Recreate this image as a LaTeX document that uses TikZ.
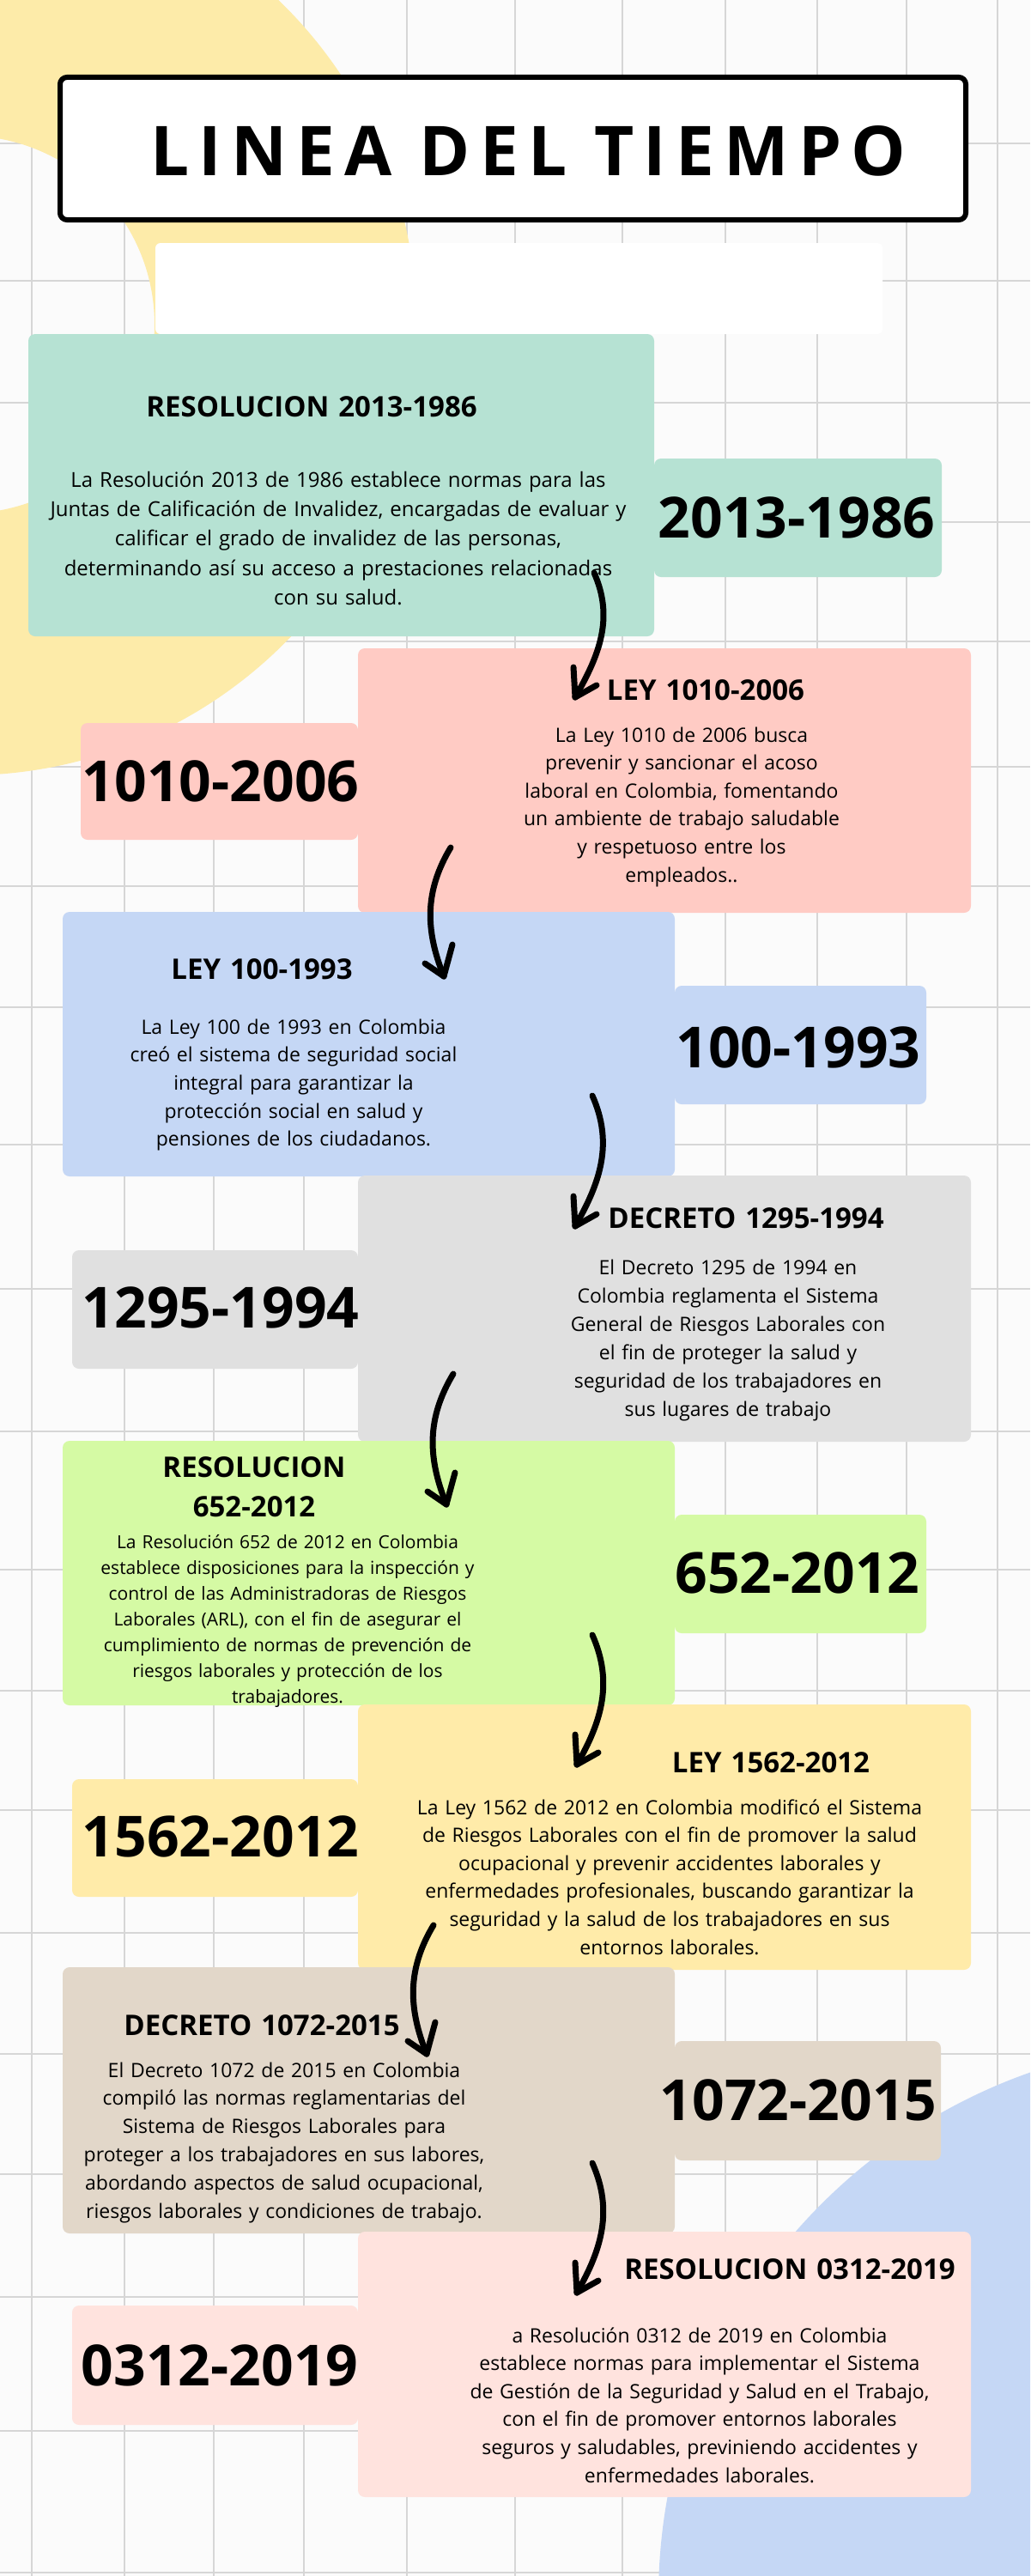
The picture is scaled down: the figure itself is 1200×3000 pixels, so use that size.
\documentclass[tikz,border=0pt]{standalone}
\usepackage{fontspec}
\setmainfont{Open Sans}
\newfontfamily\titlefont{Open Sans}[LetterSpace=14]
\definecolor{bgc}{HTML}{FBFBFB}
\definecolor{gridc}{HTML}{D6D6D6}
\definecolor{donutc}{HTML}{FDEBA9}
\definecolor{bcirc}{HTML}{C5D7F5}
\definecolor{mint}{HTML}{B6E2D3}
\definecolor{salmon}{HTML}{FFCBC4}
\definecolor{skyb}{HTML}{C5D7F5}
\definecolor{greyb}{HTML}{E0E0E0}
\definecolor{lime}{HTML}{D5FAA4}
\definecolor{butter}{HTML}{FFEBA9}
\definecolor{beige}{HTML}{E2D7C9}
\definecolor{blush}{HTML}{FFE3DE}
\begin{document}
\begin{tikzpicture}[x=1pt,y=-1pt,
  panel/.style={rounded corners=8pt, inner sep=0pt, draw=none},
  head/.style={font=\fontsize{33}{46}\selectfont\bfseries, anchor=base, inner sep=0pt, align=center, text width=700pt},
  datelbl/.style={font=\fontsize{66}{80}\selectfont\bfseries, anchor=base, inner sep=0pt},
  body/.style={anchor=base, inner sep=0pt, align=center, text width=760pt},
  arr/.style={line width=7pt, line cap=round, line join=round, black},
  gridline/.style={draw=gridc, line width=1.3pt}]
\useasboundingbox (0,0) rectangle (1200,3000);
\clip (0,0) rectangle (1200,3000);
\fill[bgc] (0,0) rectangle (1200,3000);
% grid
\foreach \gx in {37,145,249,354,474,600,725,845,952,1056,1162}
  \draw[gridline] (\gx,0) -- (\gx,3000);
\foreach \gy in {167,327,469,608,747,893,1032,1173,1333,1501,1667,1828,1969,2108,2251,2392,2532,2675,2831,2996}
  \draw[gridline] (0,\gy) -- (1200,\gy);
% decorative shapes
\fill[donutc, even odd rule] (-40,378) circle[radius=525pt] (-40,378) circle[radius=220pt];
\fill[bcirc] (1415,3025) circle[radius=648pt];
% title
\node[panel, draw=black, line width=6pt, fill=white, rounded corners=8pt, minimum width=1055pt, minimum height=166pt] (title) at (597.5,173) {};
\node[font=\titlefont\fontsize{80}{96}\selectfont\bfseries, anchor=base west, inner sep=0pt] (titletext) at (175,204) {LINEA DEL TIEMPO};
\node[panel, fill=white, rounded corners=6pt, minimum width=847pt, minimum height=106pt] (blank) at (604.5,336) {};
% panels
\node[panel, fill=mint, minimum width=729pt, minimum height=352pt] (b1) at (397.5,565) {};
\node[panel, fill=mint, minimum width=335pt, minimum height=138pt] (b1t) at (929.5,603) {};
\node[panel, fill=salmon, minimum width=714pt, minimum height=308pt] (b2) at (774,909) {};
\node[panel, fill=salmon, minimum width=323pt, minimum height=136pt] (b2t) at (255.5,910) {};
\node[panel, fill=skyb, minimum width=713pt, minimum height=308pt] (b3) at (429.5,1216) {};
\node[panel, fill=skyb, minimum width=293pt, minimum height=138pt] (b3t) at (932.5,1217) {};
\node[panel, fill=greyb, minimum width=714pt, minimum height=310pt] (b4) at (774,1524) {};
\node[panel, fill=greyb, minimum width=333pt, minimum height=138pt] (b4t) at (250.5,1525) {};
\node[panel, fill=lime, minimum width=713pt, minimum height=308pt] (b5) at (429.5,1832) {};
\node[panel, fill=lime, minimum width=293pt, minimum height=138pt] (b5t) at (932.5,1833) {};
\node[panel, fill=butter, minimum width=714pt, minimum height=309pt] (b6) at (774,2139.5) {};
\node[panel, fill=butter, minimum width=333pt, minimum height=137pt] (b6t) at (250.5,2140.5) {};
\node[panel, fill=beige, minimum width=713pt, minimum height=310pt] (b7) at (429.5,2446) {};
\node[panel, fill=beige, minimum width=310pt, minimum height=139pt] (b7t) at (941,2446.5) {};
\node[panel, fill=blush, minimum width=714pt, minimum height=309pt] (b8) at (774,2753.5) {};
\node[panel, fill=blush, minimum width=333pt, minimum height=139pt] (b8t) at (250.5,2754.5) {};
% texts 1
\node[head] (h1) at (363,485) {RESOLUCION 2013-1986};
\node[body, font=\fontsize{24}{34.4}\selectfont] (x1) at (394,567) {La Resolución 2013 de 1986 establece normas para las\\Juntas de Calificación de Invalidez, encargadas de evaluar y\\calificar el grado de invalidez de las personas,\\determinando así su acceso a prestaciones relacionadas\\con su salud.};
\node[datelbl] (d1) at (928,626) {2013-1986};
% texts 2
\node[head] (h2) at (822,815) {LEY 1010-2006};
\node[body, font=\fontsize{23}{32.6}\selectfont] (x2) at (794,864) {La Ley 1010 de 2006 busca\\prevenir y sancionar el acoso\\laboral en Colombia, fomentando\\un ambiente de trabajo saludable\\y respetuoso entre los\\empleados..};
\node[datelbl] (d2) at (257,933) {1010-2006};
% texts 3
\node[head] (h3) at (305,1140) {LEY 100-1993};
\node[body, font=\fontsize{23}{32.7}\selectfont] (x3) at (342,1204) {La Ley 100 de 1993 en Colombia\\creó el sistema de seguridad social\\integral para garantizar la\\protección social en salud y\\pensiones de los ciudadanos.};
\node[datelbl] (d3) at (930,1243) {100-1993};
% texts 4
\node[head] (h4) at (869,1430) {DECRETO 1295-1994};
\node[body, font=\fontsize{23}{33}\selectfont] (x4) at (848,1484) {El Decreto 1295 de 1994 en\\Colombia reglamenta el Sistema\\General de Riesgos Laborales con\\el fin de proteger la salud y\\seguridad de los trabajadores en\\sus lugares de trabajo};
\node[datelbl] (d4) at (257,1546) {1295-1994};
% texts 5
\node[head] (h5) at (296,1720) {RESOLUCION\\652-2012};
\node[body, font=\fontsize{21}{30}\selectfont] (x5) at (335,1803) {La Resolución 652 de 2012 en Colombia\\establece disposiciones para la inspección y\\control de las Administradoras de Riesgos\\Laborales (ARL), con el fin de asegurar el\\cumplimiento de normas de prevención de\\riesgos laborales y protección de los\\trabajadores.};
\node[datelbl] (d5) at (929,1855) {652-2012};
% texts 6
\node[head] (h6) at (898,2064) {LEY 1562-2012};
\node[body, font=\fontsize{23}{32.6}\selectfont] (x6) at (780,2113) {La Ley 1562 de 2012 en Colombia modificó el Sistema\\de Riesgos Laborales con el fin de promover la salud\\ocupacional y prevenir accidentes laborales y\\enfermedades profesionales, buscando garantizar la\\seguridad y la salud de los trabajadores en sus\\entornos laborales.};
\node[datelbl] (d6) at (257,2162) {1562-2012};
% texts 7
\node[head] (h7) at (305,2370) {DECRETO 1072-2015};
\node[body, font=\fontsize{23}{32.8}\selectfont] (x7) at (331,2419) {El Decreto 1072 de 2015 en Colombia\\compiló las normas reglamentarias del\\Sistema de Riesgos Laborales para\\proteger a los trabajadores en sus labores,\\abordando aspectos de salud ocupacional,\\riesgos laborales y condiciones de trabajo.};
\node[datelbl] (d7) at (930,2469) {1072-2015};
% texts 8
\node[head] (h8) at (920,2654) {RESOLUCION 0312-2019};
\node[body, font=\fontsize{23}{32.6}\selectfont] (x8) at (815,2728) {a Resolución 0312 de 2019 en Colombia\\establece normas para implementar el Sistema\\de Gestión de la Seguridad y Salud en el Trabajo,\\con el fin de promover entornos laborales\\seguros y saludables, previniendo accidentes y\\enfermedades laborales.};
\node[datelbl] (d8) at (256,2778) {0312-2019};
% arrow end points
\coordinate (a1s) at (692,667);  \coordinate (a1e) at (670,812);
\coordinate (a2s) at (525,987);  \coordinate (a2e) at (517,1137);
\coordinate (a3s) at (690,1276); \coordinate (a3e) at (670,1428);
\coordinate (a4s) at (528,1600); \coordinate (a4e) at (520,1752);
\coordinate (a5s) at (690,1904); \coordinate (a5e) at (672,2055);
\coordinate (a6s) at (505,2242); \coordinate (a6e) at (497,2392);
\coordinate (a7s) at (690,2519); \coordinate (a7e) at (672,2670);
% right-bulging arrows
\foreach \a in {a1,a3,a5,a7} {
  \draw[arr] (\a s) to[out=-66,in=60] (\a e);
  \draw[arr] (\a e) -- ++(-2,-35);
  \draw[arr] (\a e) -- ++(25,-14);
}
% left-bulging arrows
\foreach \a in {a2,a4,a6} {
  \draw[arr] (\a s) to[out=-121,in=112] (\a e);
  \draw[arr] (\a e) -- ++(-22,-15);
  \draw[arr] (\a e) -- ++(10,-37);
}
\end{tikzpicture}
\end{document}
